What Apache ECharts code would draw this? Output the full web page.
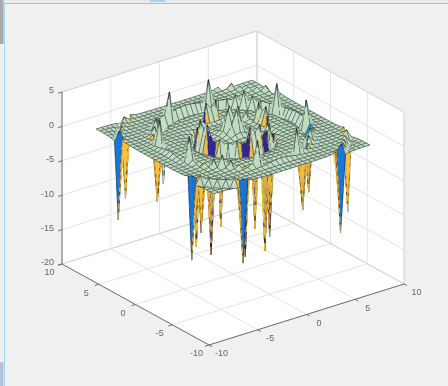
<!DOCTYPE html>
<html>
<head>
<meta charset="utf-8">
<title>surf</title>
<script src="https://cdn.jsdelivr.net/npm/echarts@6/dist/echarts.min.js"></script>
<style>
  html, body { margin: 0; padding: 0; background: #f0f0f0; }
  #main { width: 448px; height: 386px; filter: blur(0.35px); }
</style>
</head>
<body>
<div id="main"></div>
<script>
// tick labels of the three axes
var xTicks = [-10, -5, 0, 5, 10];
var yTicks = [-10, -5, 0, 5, 10];
var zTicks = [-20, -15, -10, -5, 0, 5];

// surface heights, grid step 0.5 over -8..8.
// The surface has 8-fold symmetry so only one octant is kept:
// octantRows[a][b] is the height at |x|=a/2, |y|=b/2 with b <= a
var octantRows = [
  [null],
  [4.17, 2.18],
  [1.19, 0.99, 0.72],
  [0.67, 0.63, 0.57, 0.55],
  [0.55, 0.55, 0.57, 0.67, 1.15],
  [0.67, 0.70, 0.86, 1.53, -5.21, -0.74],
  [2.36, 3.29, -15.3, -1.41, -0.62, -0.37, -0.26],
  [-0.81, -0.74, -0.57, -0.42, -0.32, -0.25, -0.22, -0.21],
  [-0.33, -0.32, -0.29, -0.26, -0.23, -0.21, -0.21, -0.23, -0.30],
  [-0.23, -0.22, -0.22, -0.21, -0.21, -0.21, -0.24, -0.32, -0.64, 1.95],
  [-0.21, -0.21, -0.21, -0.22, -0.24, -0.28, -0.39, -0.91, 1.30, 0.35, 0.20],
  [-0.26, -0.26, -0.28, -0.32, -0.41, -0.69, -8.77, 0.66, 0.30, 0.19, 0.15, 0.13],
  [-0.60, -0.64, -0.83, -1.65, 3.82, 0.72, 0.36, 0.23, 0.17, 0.14, 0.13, 0.13, 0.15],
  [0.72, 0.66, 0.53, 0.40, 0.30, 0.23, 0.18, 0.15, 0.13, 0.13, 0.13, 0.15, 0.21, 0.47],
  [0.22, 0.21, 0.20, 0.18, 0.16, 0.15, 0.14, 0.13, 0.13, 0.13, 0.16, 0.23, 0.53, -0.82, -0.22],
  [0.14, 0.14, 0.14, 0.13, 0.13, 0.13, 0.13, 0.13, 0.15, 0.18, 0.28, 0.87, -0.58, -0.21, -0.13, -0.10],
  [0.13, 0.13, 0.13, 0.13, 0.13, 0.14, 0.15, 0.18, 0.24, 0.45, -11.5, -0.37, -0.18, -0.13, -0.10, -0.09, -0.09]
];

// colormap stops
var parula = ['#2c2290', '#0f5cdd', '#1481d6', '#06a4ca', '#2eb7a4', '#87bf77', '#edba4a', '#ffc337', '#f9fb0e'];
var zLow = -15.3, zHigh = 4.17;
var topColor = '#bfddc5';
// cells touching a pit this deep show the colormap, the rest stay pale green
var pitDepth = -6;
// pits (in half steps) that show no colour in the picture at all
var plainPits = [[-6, 11], [6, 11], [11, 6]];

// view of the box on screen
var view = { cx: 233, cy: 136.4, xu: 9.75, xv: -3.05, yu: -7.35, yv: -4.05, zs: 6.88 };

function project(x, y, z) {
  return [
    view.cx + x * view.xu + y * view.yu,
    view.cy + x * view.xv + y * view.yv - z * view.zs
  ];
}
// bigger is further from the viewer
function depth(x, y, z) {
  return 7.35 * x + 9.75 * y - 9 * z;
}
function height(i, j) {
  var a = Math.abs(i), b = Math.abs(j);
  return a >= b ? octantRows[a][b] : octantRows[b][a];
}
function faceColor(z) {
  return echarts.color.lerp((z - zLow) / (zHigh - zLow), parula);
}
function touchesPlainPit(i, j) {
  return plainPits.some(function (p) {
    return p[0] >= i && p[0] <= i + 1 && p[1] >= j && p[1] <= j + 1;
  });
}
function cellColor(i, j, z00, low) {
  if (low >= pitDepth || touchesPlainPit(i, j)) return topColor;
  // the shallow pits on the x<0 side come out orange, not cyan
  if (z00 > -10 && z00 < pitDepth && i < 0) return faceColor(0);
  return faceColor(z00);
}

// split the steep cells so that painter sorting gets them right
var items = [];
function addCell(i, j) {
  var z00 = height(i, j), z10 = height(i + 1, j), z01 = height(i, j + 1), z11 = height(i + 1, j + 1);
  if (z00 === null || z10 === null || z01 === null || z11 === null) return;
  var low = Math.min(z00, z10, z01, z11);
  var range = Math.max(z00, z10, z01, z11) - low;
  var n = range > 6 ? 8 : range > 1.2 ? 3 : 1;
  var color = cellColor(i, j, z00, low);
  function corner(s, t) {
    var z = z00 * (1 - s) * (1 - t) + z10 * s * (1 - t) + z01 * (1 - s) * t + z11 * s * t;
    return { x: (i + s) / 2, y: (j + t) / 2, z: z };
  }
  for (var p = 0; p < n; p++) {
    for (var q = 0; q < n; q++) {
      var c = [corner(p / n, q / n), corner((p + 1) / n, q / n), corner((p + 1) / n, (q + 1) / n), corner(p / n, (q + 1) / n)];
      var d = 0;
      for (var k = 0; k < 4; k++) d += depth(c[k].x, c[k].y, c[k].z) / 4;
      items.push({
        pts: c.map(function (v) { return project(v.x, v.y, v.z); }),
        depth: d,
        color: color,
        fill: true
      });
    }
  }
}
function addEdge(i, j, i2, j2) {
  var z1 = height(i, j), z2 = height(i2, j2);
  if (z1 === null || z2 === null) return;
  var m = Math.max(1, Math.ceil(Math.abs(z2 - z1) / 1.2));
  for (var k = 0; k < m; k++) {
    var s = k / m, e = (k + 1) / m;
    var x1 = (i + (i2 - i) * s) / 2, y1 = (j + (j2 - j) * s) / 2, a = z1 + (z2 - z1) * s;
    var x2 = (i + (i2 - i) * e) / 2, y2 = (j + (j2 - j) * e) / 2, b = z1 + (z2 - z1) * e;
    items.push({
      pts: [project(x1, y1, a), project(x2, y2, b)],
      depth: (depth(x1, y1, a) + depth(x2, y2, b)) / 2 - 4,
      color: '#0c0f0c',
      fill: false
    });
  }
}
for (var i = -16; i <= 16; i++) {
  for (var j = -16; j <= 16; j++) {
    if (i < 16 && j < 16) addCell(i, j);
    if (i < 16) addEdge(i, j, i + 1, j);
    if (j < 16) addEdge(i, j, i, j + 1);
  }
}
items.sort(function (a, b) { return b.depth - a.depth; });

// box: walls, grid lines, axes, ticks and labels
var xMin = -10, xMax = 10, yMin = -10, yMax = 10, zMin = -20, zMax = 5;
var gridLines = [], boxLines = [], axisLines = [], labels = [];
xTicks.forEach(function (t) {
  gridLines.push([project(t, yMin, zMin), project(t, yMax, zMin)]);
  gridLines.push([project(t, yMax, zMin), project(t, yMax, zMax)]);
  axisLines.push([project(t, yMin, zMin), project(t, yMin - 0.4, zMin)]);
  var p = project(t, yMin, zMin);
  labels.push({ pos: [p[0] + 12.5, p[1] + 9], text: String(t) });
});
yTicks.forEach(function (t) {
  gridLines.push([project(xMin, t, zMin), project(xMax, t, zMin)]);
  gridLines.push([project(xMax, t, zMin), project(xMax, t, zMax)]);
  axisLines.push([project(xMin, t, zMin), project(xMin - 0.4, t, zMin)]);
  var p = project(xMin, t, zMin);
  labels.push({ pos: [p[0] - 12.5, p[1] + 9], text: String(t) });
});
zTicks.forEach(function (t) {
  gridLines.push([project(xMin, yMax, t), project(xMax, yMax, t)]);
  gridLines.push([project(xMax, yMax, t), project(xMax, yMin, t)]);
  axisLines.push([project(xMin, yMax, t), project(xMin - 0.4, yMax, t)]);
  var p = project(xMin, yMax, t);
  labels.push({ pos: [p[0] - 8, p[1] - 1], text: String(t), right: true });
});
boxLines.push([project(xMin, yMax, zMax), project(xMax, yMax, zMax)]);
boxLines.push([project(xMax, yMax, zMax), project(xMax, yMin, zMax)]);
boxLines.push([project(xMax, yMax, zMin), project(xMax, yMax, zMax)]);
boxLines.push([project(xMin, yMax, zMin), project(xMax, yMax, zMin)]);
boxLines.push([project(xMax, yMin, zMin), project(xMax, yMax, zMin)]);
boxLines.push([project(xMax, yMin, zMin), project(xMax, yMin, zMax)]);
axisLines.push([project(xMin, yMax, zMin), project(xMin, yMax, zMax)]);
axisLines.push([project(xMin, yMin, zMin), project(xMin, yMax, zMin)]);
axisLines.push([project(xMin, yMin, zMin), project(xMax, yMin, zMin)]);

var backdrop = [
  project(xMin, yMax, zMax), project(xMax, yMax, zMax), project(xMax, yMin, zMax),
  project(xMax, yMin, zMin), project(xMin, yMin, zMin), project(xMin, yMax, zMin)
];

var frameItems = [{ pts: backdrop, color: '#ffffff', fill: true }];
gridLines.forEach(function (l) { frameItems.push({ pts: l, color: '#e4e4e4', width: 1 }); });
boxLines.forEach(function (l) { frameItems.push({ pts: l, color: '#d6d6d6', width: 1 }); });
axisLines.forEach(function (l) { frameItems.push({ pts: l, color: '#6e6e6e', width: 1 }); });

function coords(api, pts) {
  return pts.map(function (p) { return api.coord(p); });
}
function drawItem(list) {
  return function (params, api) {
    var it = list[api.value(0)];
    if (it.fill) {
      return {
        type: 'polygon',
        shape: { points: coords(api, it.pts) },
        style: { fill: it.color, stroke: it.color, lineWidth: 0.4 }
      };
    }
    return {
      type: 'polyline',
      shape: { points: coords(api, it.pts) },
      style: { fill: null, stroke: it.color, lineWidth: it.width || 0.5 }
    };
  };
}
function indexData(list) {
  return list.map(function (d, n) { return [n]; });
}

var chart = echarts.init(document.getElementById('main'));
chart.setOption({
  animation: false,
  backgroundColor: '#f0f0f0',
  grid: { left: 0, right: 0, top: 0, bottom: 0 },
  xAxis: { type: 'value', min: 0, max: 448, show: false },
  yAxis: { type: 'value', min: 0, max: 386, inverse: true, show: false },
  graphic: [
    { type: 'rect', shape: { x: 0, y: 0, width: 448, height: 3 }, style: { fill: '#e9e9e9' } },
    { type: 'rect', shape: { x: 150, y: 0, width: 15, height: 2 }, style: { fill: '#a9d1f5' } },
    { type: 'rect', shape: { x: 0, y: 3, width: 448, height: 1 }, style: { fill: '#b6bec6' } },
    { type: 'rect', shape: { x: 0, y: 0, width: 3.5, height: 44 }, style: { fill: '#a6a9ae' } },
    { type: 'rect', shape: { x: 0, y: 362, width: 3.5, height: 24 }, style: { fill: '#b4c4d8' } },
    { type: 'rect', shape: { x: 4, y: 3, width: 1, height: 383 }, style: { fill: '#a8d4f5' } }
  ],
  series: [
    {
      type: 'custom',
      coordinateSystem: 'cartesian2d',
      silent: true,
      z: 1,
      data: indexData(frameItems),
      renderItem: drawItem(frameItems)
    },
    {
      type: 'custom',
      coordinateSystem: 'cartesian2d',
      silent: true,
      z: 1,
      data: indexData(labels),
      renderItem: function (params, api) {
        var l = labels[api.value(0)];
        var p = api.coord(l.pos);
        return {
          type: 'text',
          x: p[0],
          y: p[1],
          style: {
            text: l.text,
            fill: '#666666',
            font: '9px "Liberation Sans"',
            textAlign: l.right ? 'right' : 'center',
            textVerticalAlign: 'middle'
          }
        };
      }
    },
    {
      type: 'custom',
      coordinateSystem: 'cartesian2d',
      silent: true,
      z: 2,
      progressive: 0,
      data: indexData(items),
      renderItem: drawItem(items)
    }
  ]
});
</script>
</body>
</html>
